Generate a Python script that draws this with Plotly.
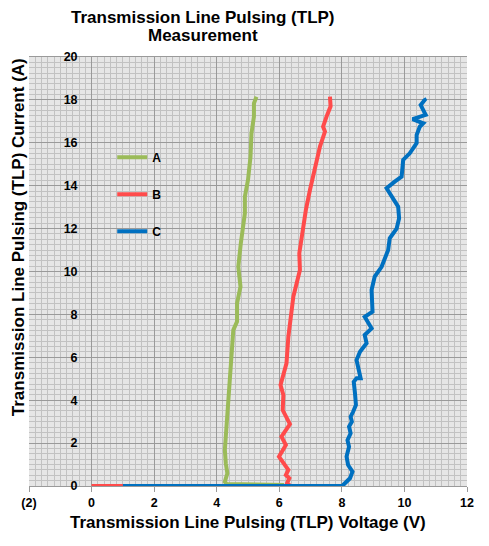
import plotly.graph_objects as go

# TLP curves: voltage (V) and current (A)
a_volt = [6.15, 4.32, 4.26, 4.34, 4.29, 4.26, 4.32, 4.40, 4.48, 4.53, 4.65, 4.65, 4.76, 4.72,
          4.69, 4.77, 4.90, 4.90, 5.00, 5.08, 5.11, 5.19, 5.19, 5.27]
a_curr = [0.05, 0.09, 0.20, 0.59, 1.06, 1.68, 2.92, 4.63, 5.95, 7.27, 7.66, 8.52, 9.29, 10.07,
          10.22, 11.31, 12.71, 13.49, 14.27, 15.35, 16.44, 17.22, 17.84, 18.15]

b_volt = [0.0, 6.30, 6.32, 6.25, 6.32, 6.21, 6.29, 6.18, 5.99, 6.21, 6.07, 6.34, 6.11, 6.13,
          6.04, 6.23, 6.29, 6.45, 6.66, 6.64, 6.71, 6.85, 6.98, 7.14, 7.30, 7.46, 7.40,
          7.51, 7.64, 7.62]
b_curr = [0.0, 0.0, 0.05, 0.13, 0.36, 0.51, 0.75, 0.98, 1.37, 1.91, 2.30, 2.89, 3.54, 4.24,
          4.71, 5.72, 6.96, 8.83, 10.07, 10.85, 11.62, 12.87, 13.80, 14.73, 15.82, 16.52, 16.75,
          17.22, 17.70, 18.15]

c_volt = [1.0, 8.01, 8.26, 8.34, 8.20, 8.15, 8.23, 8.18, 8.28, 8.23, 8.32, 8.28, 8.36, 8.45,
          8.42, 8.38, 8.47, 8.60, 8.47, 8.58, 8.79, 8.73, 8.95, 8.73, 8.98, 8.97, 8.95,
          9.05, 9.27, 9.48, 9.53, 9.75, 9.83, 9.80, 9.43, 9.69, 9.91, 9.96, 10.17, 10.39,
          10.39, 10.49, 10.60, 10.26, 10.68, 10.52, 10.65, 10.62]
c_curr = [0.0, 0.0, 0.36, 0.67, 0.98, 1.37, 1.83, 2.14, 2.46, 2.77, 3.00, 3.23, 3.46, 3.78,
          4.32, 4.86, 5.02, 5.02, 5.87, 6.26, 6.65, 7.04, 7.35, 7.89, 8.13, 8.52, 9.14,
          9.76, 10.22, 11.00, 11.55, 12.00, 12.48, 13.02, 13.88, 14.19, 14.42, 15.20, 15.51, 15.98,
          16.36, 16.75, 16.91, 17.10, 17.30, 17.76, 18.00, 18.07]

x_ticks = [-2, 0, 2, 4, 6, 8, 10, 12]
x_labels = ["(2)", "0", "2", "4", "6", "8", "10", "12"]

font_name = "Liberation Sans, Arial, sans-serif"
bold = dict(weight="bold", color="black")

fig = go.Figure()
series = [("A", a_volt, a_curr, "#9BBB59"),
          ("B", b_volt, b_curr, "#FF4B4B"),
          ("C", c_volt, c_curr, "#0070C0")]
for name, xs, ys, col in series:
    fig.add_trace(go.Scatter(x=xs, y=ys, mode="lines", name=name, legendgroup=name,
                             line=dict(color=col, width=4)))

# page body has an 8px margin, so the figure is a bit smaller than the window
fig.update_layout(
    width=481, height=538,
    margin=dict(l=21, r=22, t=49, b=60),
    paper_bgcolor="white",
    plot_bgcolor="#e6e6e6",
    font=dict(family=font_name, color="black"),
    legend=dict(x=0.19, y=0.8, xanchor="left", yanchor="top",
                bgcolor="rgba(0,0,0,0)", tracegroupgap=18,
                font=dict(size=12, **bold)),
    annotations=[
        dict(text="Transmission Line Pulsing (TLP)", xref="paper", yref="paper",
             x=0.397, y=1.093, xanchor="center", yanchor="middle", showarrow=False,
             font=dict(size=17, **bold)),
        dict(text="Measurement", xref="paper", yref="paper",
             x=0.397, y=1.049, xanchor="center", yanchor="middle", showarrow=False,
             font=dict(size=17, **bold)),
        dict(text="Transmission Line Pulsing (TLP) Voltage (V)", xref="paper", yref="paper",
             x=0.5, y=-0.086, xanchor="center", yanchor="middle", showarrow=False,
             font=dict(size=17, **bold)),
        dict(text="Transmission Line Pulsing (TLP) Current (A)", xref="paper", yref="paper",
             x=-0.025, y=0.58, xanchor="center", yanchor="middle", showarrow=False,
             textangle=-90, font=dict(size=17, **bold)),
    ],
)

fig.update_xaxes(range=[-2, 12], tickmode="array", tickvals=x_ticks, ticktext=x_labels,
                 showgrid=True, gridcolor="#9a9a9a", gridwidth=1, zeroline=False,
                 ticks="outside", ticklen=5, tickcolor="#9a9a9a",
                 showline=True, linecolor="#9a9a9a", mirror=True,
                 tickfont=dict(size=12.5, **bold),
                 minor=dict(tickmode="linear", tick0=-2, dtick=0.2, showgrid=True,
                            gridcolor="#c2c2c2", gridwidth=1, ticks=""))
fig.update_yaxes(range=[0, 20], tickmode="linear", tick0=0, dtick=2,
                 showgrid=True, gridcolor="#9a9a9a", gridwidth=1, zeroline=False,
                 anchor="free", position=2 / 14, showline=False, ticks="",
                 ticklabelstandoff=14,
                 tickfont=dict(size=12.5, **bold),
                 minor=dict(tickmode="linear", tick0=0, dtick=0.25, showgrid=True,
                            gridcolor="#c2c2c2", gridwidth=1, ticks=""))

fig.write_html("out.html")
